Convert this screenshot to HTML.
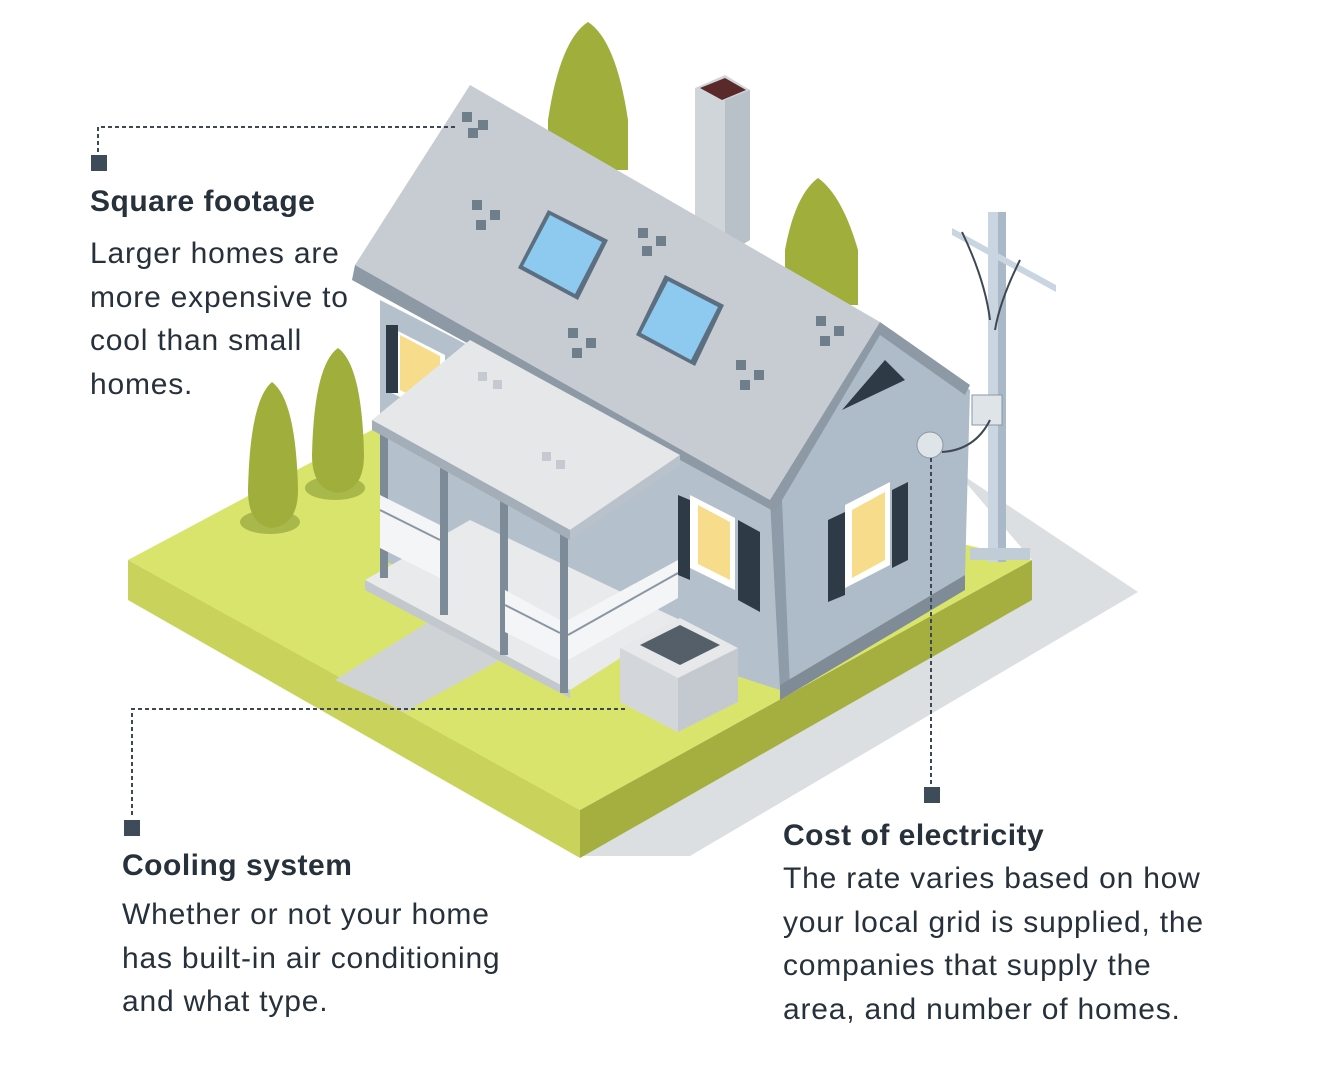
<!DOCTYPE html>
<html><head><meta charset="utf-8"><style>
html,body{margin:0;padding:0;background:#fff;}
#c{position:relative;width:1326px;height:1092px;overflow:hidden;font-family:"Liberation Sans",sans-serif;color:#27313b;}
.t{position:absolute;font-size:30px;line-height:43.5px;letter-spacing:0.8px;white-space:nowrap;}
.h{font-weight:bold;font-size:30px;letter-spacing:0.5px;}
svg{position:absolute;left:0;top:0;}
</style></head><body><div id="c">
<svg width="1326" height="1092" viewBox="0 0 1326 1092">
<polygon points="955,470 1138,592 690,856 580,856 1032,600 1032,560" fill="#dcdfe2"/>
<polygon points="128,560 128,600 580,858 580,810" fill="#c9d35c"/>
<polygon points="580,810 580,858 1032,600 1032,560" fill="#a5af40"/>
<polygon points="128,560 400,415 1032,560 580,810" fill="#d9e46c"/>
<polygon points="335,680 432,620 500,660 405,712" fill="#d0d3d6"/>
<ellipse cx="270" cy="522" rx="30" ry="12" fill="#a9b84a"/>
<path d="M248,490 Q250,400 272,382 Q296,400 298,490 Q298,525 272,528 Q248,525 248,490Z" fill="#a0ae3c"/>
<ellipse cx="335" cy="488" rx="30" ry="12" fill="#a9b84a"/>
<path d="M312,455 Q314,365 338,348 Q362,365 364,455 Q364,490 338,493 Q312,490 312,455Z" fill="#a0ae3c"/>
<path d="M548,120 Q560,40 588,22 Q616,40 628,120 L628,170 L548,170Z" fill="#a0ae3c"/>
<path d="M785,250 Q795,195 818,178 Q842,195 858,250 L858,305 L785,305Z" fill="#a0ae3c"/>
<polygon points="695,88 725,75 750,90 750,240 725,255 695,240" fill="#d0d5da"/>
<polygon points="725,100 750,90 750,240 725,255" fill="#b9c1c8"/>
<polygon points="700,88 725,78 746,90 722,100" fill="#5a2a2a"/>
<polygon points="380,300 770,500 780,690 380,560" fill="#b4c0cc"/>
<polygon points="770,500 880,330 970,390 965,575 780,685" fill="#aebbc8"/>
<polygon points="770,500 780,690 790,688 782,500" fill="#8e9ba8"/>
<polygon points="780,685 965,575 965,590 780,700" fill="#7f8b97"/>
<polygon points="842,410 885,360 905,380" fill="#2e3a45"/>
<polygon points="355,265 470,85 880,322 770,500" fill="#c6ccd2"/>
<polygon points="355,265 770,500 775,512 352,280" fill="#8d9aa6"/>
<polygon points="880,322 970,385 965,395 880,335 775,512 770,500" fill="#8d9aa6"/>
<polygon points="518,268 548,210 608,240 578,300" fill="#5c6f80"/>
<polygon points="523,266 550,215 602,242 575,294" fill="#8ec9ef"/>
<polygon points="636,335 665,275 724,305 695,366" fill="#5c6f80"/>
<polygon points="641,333 668,281 718,307 691,360" fill="#8ec9ef"/>
<g fill="#6f7e8b">
<rect x="462" y="112" width="10" height="10"/><rect x="478" y="120" width="10" height="10"/><rect x="468" y="128" width="10" height="10"/>
<rect x="472" y="200" width="10" height="10"/><rect x="490" y="210" width="10" height="10"/><rect x="476" y="220" width="10" height="10"/>
<rect x="638" y="228" width="10" height="10"/><rect x="656" y="236" width="10" height="10"/><rect x="642" y="246" width="10" height="10"/>
<rect x="568" y="328" width="10" height="10"/><rect x="586" y="338" width="10" height="10"/><rect x="572" y="348" width="10" height="10"/>
<rect x="816" y="316" width="10" height="10"/><rect x="834" y="326" width="10" height="10"/><rect x="820" y="336" width="10" height="10"/>
<rect x="736" y="360" width="10" height="10"/><rect x="754" y="370" width="10" height="10"/><rect x="740" y="380" width="10" height="10"/>
</g>
<polygon points="386,325 445,355 445,420 386,390" fill="#fff"/>
<polygon points="400,335 440,356 440,410 400,390" fill="#f7dc8c"/>
<rect x="386" y="325" width="12" height="68" fill="#2e3a45"/>
<polygon points="690,495 735,518 735,590 690,568" fill="#fff"/>
<polygon points="698,505 730,522 730,580 698,564" fill="#f7dc8c"/>
<polygon points="678,495 690,500 690,580 678,575" fill="#2e3a45"/>
<polygon points="738,520 760,532 760,612 738,600" fill="#2e3a45"/>
<polygon points="845,505 890,482 890,565 845,588" fill="#fff"/>
<polygon points="852,510 885,492 885,560 852,578" fill="#f7dc8c"/>
<polygon points="828,520 845,512 845,595 828,602" fill="#2e3a45"/>
<polygon points="892,490 908,482 908,560 892,568" fill="#2e3a45"/>
<polygon points="365,580 470,520 680,620 570,690" fill="#e8eaec"/>
<polygon points="365,580 570,690 570,698 365,590" fill="#c2c8cd"/>
<g fill="#7d8a97">
<rect x="380" y="428" width="8" height="150"/><rect x="440" y="460" width="8" height="155"/>
<rect x="500" y="495" width="8" height="160"/><rect x="560" y="528" width="8" height="165"/>
</g>
<polygon points="380,495 440,525 440,578 380,548" fill="#f4f5f6"/>
<polygon points="505,590 560,620 560,660 505,632" fill="#f4f5f6"/>
<polygon points="568,620 678,560 678,598 568,660" fill="#f4f5f6"/>
<g stroke="#8a97a3" stroke-width="2">
<line x1="380" y1="510" x2="440" y2="540"/><line x1="505" y1="605" x2="560" y2="633"/><line x1="568" y1="635" x2="678" y2="573"/>
</g>
<polygon points="372,420 470,340 680,455 570,530" fill="#e5e7e9"/>
<polygon points="372,420 570,530 570,540 372,430" fill="#a3aeb8"/>
<polygon points="570,530 680,455 680,465 570,540" fill="#b9c2ca"/>
<g fill="#c4cad0"><rect x="478" y="372" width="9" height="9"/><rect x="493" y="380" width="9" height="9"/><rect x="542" y="452" width="9" height="9"/><rect x="556" y="460" width="9" height="9"/></g>
<polygon points="620,648 680,618 738,648 738,702 678,732 620,702" fill="#e6e8ea"/>
<polygon points="620,648 678,678 678,732 620,702" fill="#d3d7db"/>
<polygon points="678,678 738,648 738,702 678,732" fill="#c3c9ce"/>
<polygon points="640,645 680,625 720,645 680,665" fill="#555f69"/>
<rect x="988" y="212" width="18" height="350" fill="#c9d6e2"/>
<rect x="998" y="212" width="8" height="350" fill="#aab9c7"/>
<polygon points="952,228 1056,285 1056,292 952,235" fill="#c9d6e2"/>
<rect x="972" y="395" width="30" height="30" fill="#dfe4e8" stroke="#8a97a3"/>
<circle cx="930" cy="445" r="13" fill="#dfe4e8" stroke="#8a97a3"/>
<path d="M942,452 Q975,450 990,420 M962,232 Q985,280 990,320 M1020,260 Q1000,300 995,330" stroke="#3e4852" stroke-width="2" fill="none"/>
<rect x="970" y="548" width="60" height="12" fill="#c0ccd6"/>
<g stroke="#3e4852" stroke-width="2" stroke-dasharray="4,3" fill="none">
<polyline points="455,127 98,127 98,152"/>
<polyline points="625,709 132,709 132,818"/>
<polyline points="931,458 931,786"/>
</g>
<g fill="#3e4c59">
<rect x="91" y="155" width="16" height="16"/>
<rect x="124" y="820" width="16" height="16"/>
<rect x="924" y="787" width="16" height="16"/>
</g>
</svg>
<div class="t h" style="left:90px;top:180px;">Square footage</div>
<div class="t" style="left:90px;top:232px;">Larger homes are<br>more expensive to<br>cool than small<br>homes.</div>
<div class="t h" style="left:122px;top:844px;">Cooling system</div>
<div class="t" style="left:122px;top:893px;">Whether or not your home<br>has built-in air conditioning<br>and what type.</div>
<div class="t h" style="left:783px;top:814px;">Cost of electricity</div>
<div class="t" style="left:783px;top:857px;">The rate varies based on how<br>your local grid is supplied, the<br>companies that supply the<br>area, and number of homes.</div>
</div></body></html>
